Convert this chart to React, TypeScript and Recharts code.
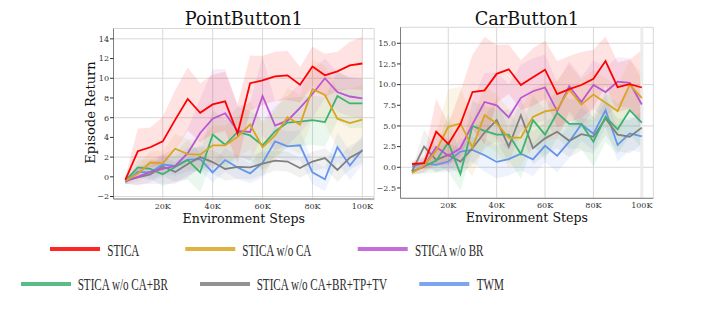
import React from 'react';
import { ComposedChart, Line, Area, XAxis, YAxis, CartesianGrid, ReferenceLine } from 'recharts';

// ---------- data ----------
const steps = [5000, 10000, 15000, 20000, 25000, 30000, 35000, 40000, 45000, 50000, 55000, 60000, 65000, 70000, 75000, 80000, 85000, 90000, 95000, 100000];
const xTicks = [20000, 40000, 60000, 80000, 100000];

const seriesNames = ['STICA', 'STICA w/o CA', 'STICA w/o BR', 'STICA w/o CA+BR', 'STICA w/o CA+BR+TP+TV', 'TWM'];
const seriesKeys = ['stica', 'noCA', 'noBR', 'noCABR', 'noAll', 'twm'];
const seriesColors = ['#ff0000', '#daa520', '#ba55d3', '#3cb371', '#808080', '#6495ed'];

// PointButton1 means
const pbSTICA = [-0.3, 2.6, 3.0, 3.6, 5.8, 7.9, 6.5, 7.35, 7.65, 4.4, 9.5, 9.78, 10.2, 10.3, 9.35, 11.2, 10.3, 10.7, 11.3, 11.5];
const pbNoCA = [-0.4, 0.3, 1.45, 1.4, 2.85, 2.3, 2.25, 3.2, 3.2, 4.05, 5.3, 3.0, 4.2, 6.05, 5.3, 8.9, 8.3, 5.9, 5.45, 5.8];
const pbNoBR = [-0.4, 0.0, 0.5, 0.8, 1.1, 2.4, 4.45, 5.9, 6.45, 4.65, 4.55, 8.2, 5.2, 5.7, 7.0, 8.4, 10.0, 8.6, 8.15, 7.95];
const pbNoCABR = [-0.4, 0.95, 0.8, 0.25, 1.0, 1.7, 0.45, 4.3, 3.25, 4.55, 4.2, 3.2, 4.6, 5.5, 5.6, 5.75, 5.55, 8.2, 7.45, 7.45];
const pbNoAll = [-0.4, -0.05, 0.25, 1.05, 0.5, 1.3, 2.0, 1.5, 0.8, 1.0, 0.95, 1.35, 1.65, 1.55, 0.9, 1.55, 1.9, 0.7, 1.95, 2.65];
const pbTWM = [-0.55, 0.5, 0.45, 1.25, 1.1, 1.75, 1.8, 0.45, 1.7, 0.95, 0.35, 1.4, 3.6, 3.1, 3.2, 0.45, -0.25, 3.0, 1.15, 2.75];

// PointButton1 band half-widths
const pbSTICAsd = [0.3, 2.3, 2.0, 2.5, 3.0, 3.2, 3.0, 3.0, 3.0, 3.0, 2.8, 2.5, 2.5, 2.5, 1.8, 2.0, 2.2, 2.0, 2.4, 2.7];
const pbNoCAsd = [0.3, 0.8, 1.2, 1.2, 1.5, 1.5, 1.5, 2.0, 2.0, 2.0, 2.5, 2.5, 2.5, 3.0, 3.0, 3.0, 3.0, 3.0, 3.5, 3.5];
const pbNoBRsd = [0.3, 0.8, 1.2, 1.5, 1.8, 2.5, 3.5, 5.0, 4.5, 2.5, 3.0, 4.0, 2.5, 2.5, 2.5, 2.5, 2.0, 2.0, 2.0, 2.0];
const pbNoCABRsd = [0.3, 0.8, 1.0, 1.2, 1.5, 2.0, 2.0, 2.5, 2.5, 2.5, 2.5, 2.5, 2.5, 2.5, 2.5, 2.5, 2.5, 2.5, 2.5, 2.5];
const pbNoAllsd = [0.3, 0.8, 0.8, 1.0, 1.0, 1.2, 1.2, 1.2, 1.2, 1.2, 1.2, 1.2, 1.0, 1.0, 1.0, 1.0, 1.0, 1.2, 1.2, 1.2];
const pbTWMsd = [0.3, 0.6, 0.8, 1.0, 1.0, 1.2, 1.2, 1.0, 1.2, 1.2, 1.0, 1.5, 1.5, 1.5, 1.5, 1.2, 1.2, 1.5, 1.5, 1.5];

// CarButton1 means
const cbSTICA = [0.4, 0.5, 4.3, 2.8, 5.2, 9.1, 9.3, 11.3, 11.85, 9.95, 10.9, 11.8, 8.85, 9.45, 9.95, 10.7, 12.85, 9.7, 10.05, 9.65];
const cbNoCA = [-0.7, 0.2, 2.0, 4.9, 5.3, 2.4, 6.3, 5.3, 3.55, 3.6, 6.1, 6.75, 7.0, 9.4, 7.6, 8.8, 7.8, 6.8, 10.0, 8.4];
const cbNoBR = [-0.6, 0.1, 2.45, 1.4, 2.3, 5.2, 7.9, 7.5, 6.05, 8.4, 9.2, 9.65, 6.8, 9.8, 7.9, 9.95, 9.1, 10.35, 10.2, 7.6];
const cbNoCABR = [-0.5, 0.1, 0.8, 3.0, -0.8, 5.0, 4.4, 3.95, 3.95, 1.6, 5.7, 3.95, 6.6, 5.25, 5.25, 3.1, 6.1, 4.6, 6.9, 5.4];
const cbNoAll = [-0.5, 2.5, 0.9, 1.5, 0.7, 2.3, 4.2, 5.7, 2.5, 6.3, 2.3, 3.5, 4.3, 3.2, 4.0, 3.7, 5.9, 3.95, 3.7, 4.8];
const cbTWM = [0.1, 0.5, 0.3, 0.7, 1.9, 2.1, 1.45, 0.65, 1.0, 1.65, 0.95, 2.6, 1.4, 3.1, 5.2, 4.05, 6.9, 2.7, 4.1, 3.75];

// CarButton1 band half-widths
const cbSTICAsd = [0.3, 0.8, 4.0, 2.5, 4.0, 4.5, 6.5, 3.5, 3.0, 3.0, 3.5, 3.5, 4.0, 4.0, 4.0, 3.5, 3.0, 3.0, 3.0, 4.5];
const cbNoCAsd = [0.3, 0.8, 2.0, 4.5, 4.5, 3.5, 3.5, 3.5, 3.5, 3.5, 3.5, 3.5, 3.5, 3.0, 3.0, 3.0, 3.0, 3.0, 3.0, 3.0];
const cbNoBRsd = [0.3, 0.8, 2.0, 2.0, 2.5, 3.0, 3.5, 4.0, 4.0, 4.0, 4.0, 4.0, 3.5, 3.0, 3.0, 3.0, 3.0, 3.0, 3.0, 3.0];
const cbNoCABRsd = [0.3, 0.8, 1.5, 3.5, 2.0, 3.0, 3.0, 3.0, 3.0, 3.0, 3.0, 3.0, 3.0, 3.0, 3.0, 3.0, 3.0, 3.0, 3.0, 3.0];
const cbNoAllsd = [0.3, 2.0, 1.5, 1.5, 1.5, 2.0, 2.0, 2.5, 2.0, 2.0, 2.0, 2.0, 2.0, 2.0, 2.0, 2.0, 2.0, 2.0, 2.0, 2.0];
const cbTWMsd = [0.3, 0.6, 0.8, 1.0, 1.5, 1.5, 2.0, 2.0, 2.0, 2.0, 2.0, 2.0, 2.0, 2.0, 2.0, 2.0, 2.0, 2.0, 2.0, 2.0];

const pbYTicks = [-2, 0, 2, 4, 6, 8, 10, 12, 14];
const cbYTicks = [-2.5, 0, 2.5, 5, 7.5, 10, 12.5, 15];

// ---------- helpers ----------
function buildTable(means: number[][], sds: number[][]) {
  return steps.map((x, i) => {
    const row: any = { x };
    seriesKeys.forEach((k, s) => {
      row[k] = means[s][i];
      row[k + 'Band'] = [means[s][i] - sds[s][i], means[s][i] + sds[s][i]];
    });
    return row;
  });
}

const pbData = buildTable(
  [pbSTICA, pbNoCA, pbNoBR, pbNoCABR, pbNoAll, pbTWM],
  [pbSTICAsd, pbNoCAsd, pbNoBRsd, pbNoCABRsd, pbNoAllsd, pbTWMsd]
);
const cbData = buildTable(
  [cbSTICA, cbNoCA, cbNoBR, cbNoCABR, cbNoAll, cbTWM],
  [cbSTICAsd, cbNoCAsd, cbNoBRsd, cbNoCABRsd, cbNoAllsd, cbTWMsd]
);

const SERIF = '"DejaVu Serif", serif';
const minus = (v: number, digits: number) => {
  const s = Math.abs(v).toFixed(digits);
  return v < 0 ? '\u2212' + s : s;
};

const X_DOMAIN: [number, number] = [250, 104750];
const FRAME = '#7f7f7f';
const GRID = '#d8d8d8';

function Panel(props: any) {
  const { data, yDomain, yTicks, yDigits, width, height, margin, yAxisWidth, stripe } = props;
  const tickStyle = { fontSize: 8, fontFamily: SERIF, fill: '#333' };
  const order = [5, 4, 3, 2, 1, 0];
  return (
    <ComposedChart width={width} height={height} data={data} margin={margin}>
      <CartesianGrid stroke={GRID} strokeWidth={1} />
      <XAxis
        dataKey="x"
        type="number"
        domain={X_DOMAIN}
        ticks={xTicks}
        allowDataOverflow
        tickFormatter={(v: number) => v / 1000 + 'K'}
        tick={tickStyle}
        tickLine={false}
        tickSize={0}
        tickMargin={4}
        height={20}
        axisLine={{ stroke: FRAME }}
      />
      <XAxis xAxisId="top" orientation="top" type="number" domain={X_DOMAIN} height={0} tick={false} tickLine={false} axisLine={{ stroke: FRAME }} />
      <YAxis
        type="number"
        domain={yDomain}
        ticks={yTicks}
        allowDataOverflow
        tickFormatter={(v: number) => minus(v, yDigits)}
        tick={tickStyle}
        tickSize={3.5}
        tickMargin={1}
        tickLine={{ stroke: '#333' }}
        width={yAxisWidth}
        axisLine={{ stroke: FRAME }}
      />
      <YAxis yAxisId="right" orientation="right" type="number" domain={yDomain} width={0} tick={false} tickLine={false} axisLine={{ stroke: FRAME }} />
      {stripe ? <ReferenceLine x={100000} stroke="#ececec" strokeWidth={3} /> : null}
      {order.map((s) => (
        <Area
          key={'band' + s}
          type="linear"
          dataKey={seriesKeys[s] + 'Band'}
          stroke="none"
          fill={seriesColors[s]}
          fillOpacity={0.11}
          isAnimationActive={false}
          activeDot={false}
          dot={false}
        />
      ))}
      {order.map((s) => (
        <Line
          key={'line' + s}
          type="linear"
          dataKey={seriesKeys[s]}
          stroke={seriesColors[s]}
          strokeWidth={1.8}
          dot={false}
          activeDot={false}
          isAnimationActive={false}
        />
      ))}
    </ComposedChart>
  );
}

const legendRows = [
  [
    { s: 0, lineX: 50, textX: 107.3 },
    { s: 1, lineX: 185.3, textX: 242.3 },
    { s: 2, lineX: 357.7, textX: 415 },
  ],
  [
    { s: 3, lineX: 21, textX: 77.7 },
    { s: 4, lineX: 200, textX: 256.7 },
    { s: 5, lineX: 419.3, textX: 476.7 },
  ],
];
const legendRowY = [249, 284];
const legendBaseline = [255.7, 290];

export default function App() {
  return (
    <div style={{ position: 'fixed', left: 0, top: 0, width: 725, height: 323, background: '#fff', overflow: 'hidden' }}>
      <div style={{ position: 'absolute', left: 0, top: 0 }}>
        <Panel
          data={pbData}
          yDomain={[-2.25, 15.05]}
          yTicks={pbYTicks}
          yDigits={0}
          width={380}
          height={230}
          margin={{ top: 28.5, right: 5.8, bottom: 11, left: 83.5 }}
          yAxisWidth={30}
        />
      </div>
      <div style={{ position: 'absolute', left: 370, top: 0 }}>
        <Panel
          data={cbData}
          yDomain={[-3.75, 16.93]}
          yTicks={cbYTicks}
          yDigits={1}
          width={290}
          height={230}
          margin={{ top: 27.3, right: 6.7, bottom: 11.7, left: 0 }}
          yAxisWidth={30.5}
          stripe
        />
      </div>
      <svg width={725} height={323} style={{ position: 'absolute', left: 0, top: 0, pointerEvents: 'none' }}>
        <text x={243.8} y={25} textAnchor="middle" fontFamily={SERIF} fontSize={17.7} fill="#111">PointButton1</text>
        <text x={526.9} y={25} textAnchor="middle" fontFamily={SERIF} fontSize={17.7} fill="#111">CarButton1</text>
        <text x={243.8} y={222.5} textAnchor="middle" fontFamily={SERIF} fontSize={12.6} fill="#111">Environment Steps</text>
        <text x={526.9} y={222} textAnchor="middle" fontFamily={SERIF} fontSize={12.6} fill="#111">Environment Steps</text>
        <text transform="translate(94.5,112.5) rotate(-90)" textAnchor="middle" fontFamily={SERIF} fontSize={13} fill="#111">Episode Return</text>
        {legendRows.map((row, r) =>
          row.map((it) => (
            <g key={'lg' + it.s}>
              <rect x={it.lineX} y={legendRowY[r] - 2} width={50} height={4} fill={seriesColors[it.s]} opacity={0.85} />
              <text
                transform={`translate(${it.textX},${legendBaseline[r]}) scale(0.694,1)`}
                fontFamily='"Liberation Serif", "Times New Roman", serif'
                fontSize={16}
                fontWeight={400}
                fill="#2a2a2a"
              >
                {seriesNames[it.s]}
              </text>
            </g>
          ))
        )}
      </svg>
    </div>
  );
}
